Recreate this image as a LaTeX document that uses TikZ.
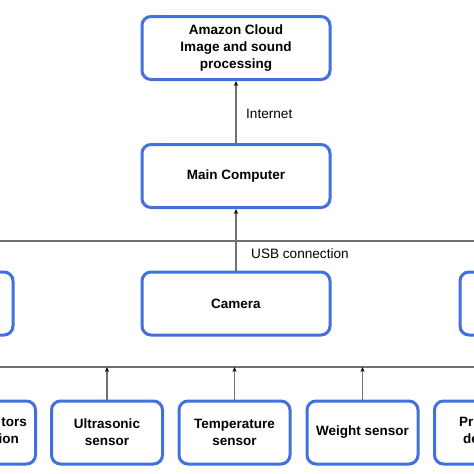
\documentclass[tikz,border=0pt]{standalone}
\usepackage{fontspec}
\setmainfont{Liberation Sans}
\usetikzlibrary{arrows.meta}
\definecolor{boxblue}{RGB}{66,112,222}
\definecolor{linegray}{RGB}{112,112,112}
\begin{document}
\begin{tikzpicture}[x=1pt,y=-1pt,
 box/.style={draw=boxblue, line width=3pt, rounded corners=9pt, minimum width=188pt, minimum height=63pt, inner sep=0pt, font=\fontsize{13.5}{17}\selectfont\bfseries, align=center},
 sbox/.style={box, minimum width=111pt},
 frag/.style={inner sep=0pt, font=\fontsize{13.5}{17}\selectfont\bfseries},
 conn/.style={draw=linegray, line width=1.1pt, -{Stealth[length=5pt,width=4pt,black]}},
 bus/.style={draw=linegray, line width=1.2pt},
 lbl/.style={font=\fontsize{13.6}{16}\selectfont, anchor=west, inner sep=0pt}]
\useasboundingbox (0,0) rectangle (474,474);
\clip (0,0) rectangle (474,474);
\fill[white] (0,0) rectangle (474,474);
% top boxes
\node[box] (amz) at (236,48) {Amazon Cloud\\Image and sound\\processing};
\node[box] (mc) at (236,176) {Main Computer};
\node[box] (cam) at (236,303.5) {Camera};
\node[box] (lpart) at (-81,303.5) {};
\node[box] (rpart) at (554,303.5) {};
% buses
\coordinate (b1l) at (0,241);
\coordinate (b1r) at (474,241);
\coordinate (b2l) at (0,367);
\coordinate (b2r) at (474,367);
\draw[bus] (b1l) -- (b1r);
\draw[bus] (b2l) -- (b2r);
% bottom boxes
\node[sbox] (lsens) at (-20,432.5) {};
\node[sbox] (us) at (107,432.5) {Ultrasonic\\sensor};
\node[sbox] (ts) at (234.5,432.5) {Temperature\\sensor};
\node[sbox] (ws) at (362.5,432.5) {Weight sensor};
\node[sbox] (rsens) at (490,432.5) {};
\node[frag, anchor=east] (f1) at (27,422) {tors};
\node[frag, anchor=east] (f2) at (19,439) {ion};
\node[frag, anchor=west] (f3) at (459,422) {Pr};
\node[frag, anchor=west] (f4) at (463,439) {de};
% connectors
\draw[conn] (mc.north) -- (amz.south);
\draw[conn] (cam.north) -- (mc.south);
\draw[conn] (us.north) -- (us.north |- b2l);
\draw[conn] (ts.north) -- (ts.north |- b2l);
\draw[conn] (ws.north) -- (ws.north |- b2l);
% labels
\node[lbl] (inet) at (246,114) {Internet};
\node[lbl] (usb) at (251,254) {USB connection};
\end{tikzpicture}
\end{document}
